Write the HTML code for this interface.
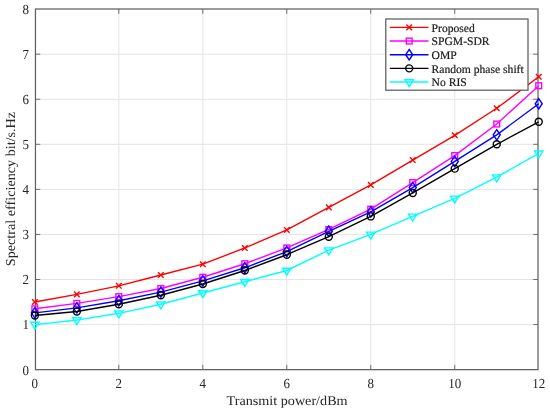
<!DOCTYPE html>
<html><head><meta charset="utf-8"><title>Spectral efficiency vs transmit power</title>
<style>html,body{margin:0;padding:0;background:#fff}body{width:550px;height:413px;overflow:hidden}</style>
</head><body>
<svg width="550" height="413" viewBox="0 0 550 413" style="display:block" text-rendering="geometricPrecision" font-family="'Liberation Serif', 'Times New Roman', serif">
<rect width="550" height="413" fill="#fff"/>
<path d="M118.83 9.0V369.65M202.81 9.0V369.65M286.79 9.0V369.65M370.77 9.0V369.65M454.75 9.0V369.65M35.45 324.58H538.0M35.45 279.51H538.0M35.45 234.44H538.0M35.45 189.37H538.0M35.45 144.30H538.0M35.45 99.23H538.0M35.45 54.16H538.0" stroke="#e4e4e4" stroke-width="1" fill="none"/>
<path d="M118.83 369.65v-4.8M118.83 9.0v4.8M202.81 369.65v-4.8M202.81 9.0v4.8M286.79 369.65v-4.8M286.79 9.0v4.8M370.77 369.65v-4.8M370.77 9.0v4.8M454.75 369.65v-4.8M454.75 9.0v4.8M35.45 324.58h4.8M538.0 324.58h-4.8M35.45 279.51h4.8M538.0 279.51h-4.8M35.45 234.44h4.8M538.0 234.44h-4.8M35.45 189.37h4.8M538.0 189.37h-4.8M35.45 144.30h4.8M538.0 144.30h-4.8M35.45 99.23h4.8M538.0 99.23h-4.8M35.45 54.16h4.8M538.0 54.16h-4.8" stroke="#707070" stroke-width="1" fill="none"/>
<rect x="35.45" y="9.0" width="502.55" height="360.65" stroke="#606060" stroke-width="1.25" fill="none"/>
<g font-size="13.8" fill="#262626">
<text transform="translate(34.85 387.6) scale(0.94 1)" text-anchor="middle">0</text>
<text transform="translate(118.83 387.6) scale(0.94 1)" text-anchor="middle">2</text>
<text transform="translate(202.81 387.6) scale(0.94 1)" text-anchor="middle">4</text>
<text transform="translate(286.79 387.6) scale(0.94 1)" text-anchor="middle">6</text>
<text transform="translate(370.77 387.6) scale(0.94 1)" text-anchor="middle">8</text>
<text transform="translate(454.75 387.6) scale(0.94 1)" text-anchor="middle">10</text>
<text transform="translate(538.73 387.6) scale(0.94 1)" text-anchor="middle">12</text>
<text transform="translate(28.9 374.55) scale(0.94 1)" text-anchor="end">0</text>
<text transform="translate(28.9 329.48) scale(0.94 1)" text-anchor="end">1</text>
<text transform="translate(28.9 284.41) scale(0.94 1)" text-anchor="end">2</text>
<text transform="translate(28.9 239.34) scale(0.94 1)" text-anchor="end">3</text>
<text transform="translate(28.9 194.27) scale(0.94 1)" text-anchor="end">4</text>
<text transform="translate(28.9 149.20) scale(0.94 1)" text-anchor="end">5</text>
<text transform="translate(28.9 104.13) scale(0.94 1)" text-anchor="end">6</text>
<text transform="translate(28.9 59.06) scale(0.94 1)" text-anchor="end">7</text>
<text transform="translate(28.9 13.99) scale(0.94 1)" text-anchor="end">8</text>
</g>
<text x="287.1" y="404.6" font-size="13.4" text-anchor="middle" fill="#262626" textLength="121" lengthAdjust="spacingAndGlyphs">Transmit power/dBm</text>
<text transform="translate(14.7 189.05) rotate(-90)" font-size="13.6" text-anchor="middle" fill="#262626" textLength="154.3" lengthAdjust="spacingAndGlyphs">Spectral efficiency bit/s.Hz</text>
<polyline points="34.85,302.04 76.84,294.38 118.83,285.82 160.82,275.00 202.81,264.19 244.80,247.96 286.79,229.93 328.78,207.40 370.77,184.86 412.76,160.07 454.75,135.29 496.74,108.24 538.73,76.69" stroke="#ff0000" stroke-width="1.4" fill="none" stroke-linejoin="round"/>
<path d="M32.05 299.24L37.65 304.84M32.05 304.84L37.65 299.24" stroke="#ff0000" stroke-width="1.4" fill="none"/>
<path d="M74.04 291.58L79.64 297.18M74.04 297.18L79.64 291.58" stroke="#ff0000" stroke-width="1.4" fill="none"/>
<path d="M116.03 283.02L121.63 288.62M116.03 288.62L121.63 283.02" stroke="#ff0000" stroke-width="1.4" fill="none"/>
<path d="M158.02 272.20L163.62 277.80M158.02 277.80L163.62 272.20" stroke="#ff0000" stroke-width="1.4" fill="none"/>
<path d="M200.01 261.39L205.61 266.99M200.01 266.99L205.61 261.39" stroke="#ff0000" stroke-width="1.4" fill="none"/>
<path d="M242.00 245.16L247.60 250.76M242.00 250.76L247.60 245.16" stroke="#ff0000" stroke-width="1.4" fill="none"/>
<path d="M283.99 227.13L289.59 232.73M283.99 232.73L289.59 227.13" stroke="#ff0000" stroke-width="1.4" fill="none"/>
<path d="M325.98 204.60L331.58 210.20M325.98 210.20L331.58 204.60" stroke="#ff0000" stroke-width="1.4" fill="none"/>
<path d="M367.97 182.06L373.57 187.66M367.97 187.66L373.57 182.06" stroke="#ff0000" stroke-width="1.4" fill="none"/>
<path d="M409.96 157.27L415.56 162.87M409.96 162.87L415.56 157.27" stroke="#ff0000" stroke-width="1.4" fill="none"/>
<path d="M451.95 132.49L457.55 138.09M451.95 138.09L457.55 132.49" stroke="#ff0000" stroke-width="1.4" fill="none"/>
<path d="M493.94 105.44L499.54 111.04M493.94 111.04L499.54 105.44" stroke="#ff0000" stroke-width="1.4" fill="none"/>
<path d="M535.93 73.89L541.53 79.49M535.93 79.49L541.53 73.89" stroke="#ff0000" stroke-width="1.4" fill="none"/>
<polyline points="34.85,308.81 76.84,303.40 118.83,296.64 160.82,288.52 202.81,277.26 244.80,263.74 286.79,247.96 328.78,229.48 370.77,209.20 412.76,182.61 454.75,155.57 496.74,124.02 538.73,85.71" stroke="#ff00ff" stroke-width="1.4" fill="none" stroke-linejoin="round"/>
<rect x="31.95" y="305.91" width="5.8" height="5.8" stroke="#ff00ff" stroke-width="1.4" fill="none"/>
<rect x="73.94" y="300.50" width="5.8" height="5.8" stroke="#ff00ff" stroke-width="1.4" fill="none"/>
<rect x="115.93" y="293.74" width="5.8" height="5.8" stroke="#ff00ff" stroke-width="1.4" fill="none"/>
<rect x="157.92" y="285.62" width="5.8" height="5.8" stroke="#ff00ff" stroke-width="1.4" fill="none"/>
<rect x="199.91" y="274.36" width="5.8" height="5.8" stroke="#ff00ff" stroke-width="1.4" fill="none"/>
<rect x="241.90" y="260.84" width="5.8" height="5.8" stroke="#ff00ff" stroke-width="1.4" fill="none"/>
<rect x="283.89" y="245.06" width="5.8" height="5.8" stroke="#ff00ff" stroke-width="1.4" fill="none"/>
<rect x="325.88" y="226.58" width="5.8" height="5.8" stroke="#ff00ff" stroke-width="1.4" fill="none"/>
<rect x="367.87" y="206.30" width="5.8" height="5.8" stroke="#ff00ff" stroke-width="1.4" fill="none"/>
<rect x="409.86" y="179.71" width="5.8" height="5.8" stroke="#ff00ff" stroke-width="1.4" fill="none"/>
<rect x="451.85" y="152.67" width="5.8" height="5.8" stroke="#ff00ff" stroke-width="1.4" fill="none"/>
<rect x="493.84" y="121.12" width="5.8" height="5.8" stroke="#ff00ff" stroke-width="1.4" fill="none"/>
<rect x="535.83" y="82.81" width="5.8" height="5.8" stroke="#ff00ff" stroke-width="1.4" fill="none"/>
<polyline points="34.85,312.86 76.84,307.90 118.83,300.69 160.82,292.13 202.81,280.86 244.80,267.79 286.79,251.57 328.78,231.29 370.77,211.90 412.76,187.57 454.75,161.43 496.74,134.84 538.73,103.74" stroke="#0000ff" stroke-width="1.4" fill="none" stroke-linejoin="round"/>
<path d="M34.85 307.66L38.35 312.86L34.85 318.06L31.35 312.86Z" stroke="#0000ff" stroke-width="1.4" fill="none"/>
<path d="M76.84 302.70L80.34 307.90L76.84 313.10L73.34 307.90Z" stroke="#0000ff" stroke-width="1.4" fill="none"/>
<path d="M118.83 295.49L122.33 300.69L118.83 305.89L115.33 300.69Z" stroke="#0000ff" stroke-width="1.4" fill="none"/>
<path d="M160.82 286.93L164.32 292.13L160.82 297.33L157.32 292.13Z" stroke="#0000ff" stroke-width="1.4" fill="none"/>
<path d="M202.81 275.66L206.31 280.86L202.81 286.06L199.31 280.86Z" stroke="#0000ff" stroke-width="1.4" fill="none"/>
<path d="M244.80 262.59L248.30 267.79L244.80 272.99L241.30 267.79Z" stroke="#0000ff" stroke-width="1.4" fill="none"/>
<path d="M286.79 246.37L290.29 251.57L286.79 256.77L283.29 251.57Z" stroke="#0000ff" stroke-width="1.4" fill="none"/>
<path d="M328.78 226.09L332.28 231.29L328.78 236.49L325.28 231.29Z" stroke="#0000ff" stroke-width="1.4" fill="none"/>
<path d="M370.77 206.70L374.27 211.90L370.77 217.10L367.27 211.90Z" stroke="#0000ff" stroke-width="1.4" fill="none"/>
<path d="M412.76 182.37L416.26 187.57L412.76 192.77L409.26 187.57Z" stroke="#0000ff" stroke-width="1.4" fill="none"/>
<path d="M454.75 156.23L458.25 161.43L454.75 166.63L451.25 161.43Z" stroke="#0000ff" stroke-width="1.4" fill="none"/>
<path d="M496.74 129.64L500.24 134.84L496.74 140.04L493.24 134.84Z" stroke="#0000ff" stroke-width="1.4" fill="none"/>
<path d="M538.73 98.54L542.23 103.74L538.73 108.94L535.23 103.74Z" stroke="#0000ff" stroke-width="1.4" fill="none"/>
<polyline points="34.85,315.57 76.84,311.51 118.83,304.30 160.82,295.28 202.81,284.02 244.80,270.50 286.79,254.72 328.78,236.69 370.77,216.41 412.76,192.98 454.75,168.64 496.74,144.30 538.73,121.76" stroke="#000000" stroke-width="1.4" fill="none" stroke-linejoin="round"/>
<circle cx="34.85" cy="315.57" r="3.5" stroke="#000000" stroke-width="1.4" fill="none"/>
<circle cx="76.84" cy="311.51" r="3.5" stroke="#000000" stroke-width="1.4" fill="none"/>
<circle cx="118.83" cy="304.30" r="3.5" stroke="#000000" stroke-width="1.4" fill="none"/>
<circle cx="160.82" cy="295.28" r="3.5" stroke="#000000" stroke-width="1.4" fill="none"/>
<circle cx="202.81" cy="284.02" r="3.5" stroke="#000000" stroke-width="1.4" fill="none"/>
<circle cx="244.80" cy="270.50" r="3.5" stroke="#000000" stroke-width="1.4" fill="none"/>
<circle cx="286.79" cy="254.72" r="3.5" stroke="#000000" stroke-width="1.4" fill="none"/>
<circle cx="328.78" cy="236.69" r="3.5" stroke="#000000" stroke-width="1.4" fill="none"/>
<circle cx="370.77" cy="216.41" r="3.5" stroke="#000000" stroke-width="1.4" fill="none"/>
<circle cx="412.76" cy="192.98" r="3.5" stroke="#000000" stroke-width="1.4" fill="none"/>
<circle cx="454.75" cy="168.64" r="3.5" stroke="#000000" stroke-width="1.4" fill="none"/>
<circle cx="496.74" cy="144.30" r="3.5" stroke="#000000" stroke-width="1.4" fill="none"/>
<circle cx="538.73" cy="121.76" r="3.5" stroke="#000000" stroke-width="1.4" fill="none"/>
<polyline points="34.85,324.58 76.84,320.07 118.83,313.31 160.82,304.30 202.81,293.03 244.80,281.76 286.79,270.50 328.78,250.21 370.77,234.44 412.76,216.41 454.75,198.38 496.74,177.20 538.73,153.31" stroke="#00ffff" stroke-width="1.4" fill="none" stroke-linejoin="round"/>
<path d="M30.65 322.28L39.05 322.28L34.85 329.18Z" stroke="#00ffff" stroke-width="1.4" fill="none"/>
<path d="M72.64 317.77L81.04 317.77L76.84 324.67Z" stroke="#00ffff" stroke-width="1.4" fill="none"/>
<path d="M114.63 311.01L123.03 311.01L118.83 317.91Z" stroke="#00ffff" stroke-width="1.4" fill="none"/>
<path d="M156.62 302.00L165.02 302.00L160.82 308.90Z" stroke="#00ffff" stroke-width="1.4" fill="none"/>
<path d="M198.61 290.73L207.01 290.73L202.81 297.63Z" stroke="#00ffff" stroke-width="1.4" fill="none"/>
<path d="M240.60 279.46L249.00 279.46L244.80 286.36Z" stroke="#00ffff" stroke-width="1.4" fill="none"/>
<path d="M282.59 268.20L290.99 268.20L286.79 275.10Z" stroke="#00ffff" stroke-width="1.4" fill="none"/>
<path d="M324.58 247.91L332.98 247.91L328.78 254.81Z" stroke="#00ffff" stroke-width="1.4" fill="none"/>
<path d="M366.57 232.14L374.97 232.14L370.77 239.04Z" stroke="#00ffff" stroke-width="1.4" fill="none"/>
<path d="M408.56 214.11L416.96 214.11L412.76 221.01Z" stroke="#00ffff" stroke-width="1.4" fill="none"/>
<path d="M450.55 196.08L458.95 196.08L454.75 202.98Z" stroke="#00ffff" stroke-width="1.4" fill="none"/>
<path d="M492.54 174.90L500.94 174.90L496.74 181.80Z" stroke="#00ffff" stroke-width="1.4" fill="none"/>
<path d="M534.53 151.01L542.93 151.01L538.73 157.91Z" stroke="#00ffff" stroke-width="1.4" fill="none"/>
<rect x="385.8" y="19.0" width="142.20" height="71.20" fill="#fff" stroke="#555" stroke-width="1.2"/>
<path d="M389.8 27.40H428.5" stroke="#ff0000" stroke-width="1.4"/>
<path d="M406.40 24.60L412.00 30.20M406.40 30.20L412.00 24.60" stroke="#ff0000" stroke-width="1.4" fill="none"/>
<text x="431.6" y="31.80" font-size="11.6" fill="#1a1a1a" stroke="#1a1a1a" stroke-width="0.2">Proposed</text>
<path d="M389.8 41.05H428.5" stroke="#ff00ff" stroke-width="1.4"/>
<rect x="406.30" y="38.15" width="5.8" height="5.8" stroke="#ff00ff" stroke-width="1.4" fill="none"/>
<text x="431.6" y="45.45" font-size="11.6" fill="#1a1a1a" stroke="#1a1a1a" stroke-width="0.2">SPGM-SDR</text>
<path d="M389.8 54.70H428.5" stroke="#0000ff" stroke-width="1.4"/>
<path d="M409.20 49.50L412.70 54.70L409.20 59.90L405.70 54.70Z" stroke="#0000ff" stroke-width="1.4" fill="none"/>
<text x="431.6" y="59.10" font-size="11.6" fill="#1a1a1a" stroke="#1a1a1a" stroke-width="0.2">OMP</text>
<path d="M389.8 68.35H428.5" stroke="#000000" stroke-width="1.4"/>
<circle cx="409.20" cy="68.35" r="3.5" stroke="#000000" stroke-width="1.4" fill="none"/>
<text x="431.6" y="72.75" font-size="11.6" fill="#1a1a1a" stroke="#1a1a1a" stroke-width="0.2">Random phase shift</text>
<path d="M389.8 82.00H428.5" stroke="#00ffff" stroke-width="1.4"/>
<path d="M405.00 79.70L413.40 79.70L409.20 86.60Z" stroke="#00ffff" stroke-width="1.4" fill="none"/>
<text x="431.6" y="86.40" font-size="11.6" fill="#1a1a1a" stroke="#1a1a1a" stroke-width="0.2">No RIS</text>
</svg>
</body></html>
